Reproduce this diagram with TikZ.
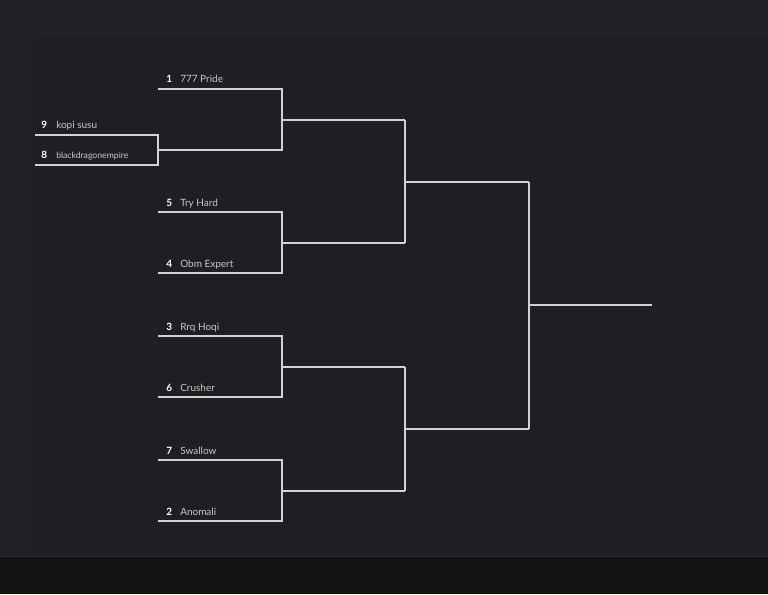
\documentclass[tikz,border=0pt]{standalone}
\usepackage{fontspec}
\setmainfont{Lato}
\definecolor{bgout}{HTML}{202125}
\definecolor{bgin}{HTML}{1E1F23}
\definecolor{bar}{HTML}{121315}
\definecolor{barline}{HTML}{2C2D31}
\definecolor{ln}{HTML}{D2D2D2}
\definecolor{txt}{HTML}{C8C8C8}
\begin{document}
\begin{tikzpicture}[x=0.75pt,y=-0.75pt,
  wire/.style={draw=ln,line width=1.3pt},
  seed/.style={anchor=base west,text=white,font=\fontsize{7.5}{9}\selectfont\bfseries,inner sep=0},
  team/.style={anchor=base west,text=txt,font=\fontsize{7.5}{9}\selectfont,inner sep=0}]
\fill[bgout] (0,0) rectangle (768,594);
\useasboundingbox (0,0) rectangle (768,594);
\fill[bgin] (35,38) rectangle (768,556);
\fill[bar] (0,557) rectangle (768,594);
\draw[barline,line width=1pt] (0,556.5) -- (768,556.5);
% play-in
\coordinate (p9a) at (35,135); \coordinate (p9b) at (158,135);
\coordinate (p8a) at (35,165); \coordinate (p8b) at (158,165);
\coordinate (pm) at (158,150);
\draw[wire] (p9a) -- (p9b) -- (p8b) -- (p8a);
\node[seed] (s9) at (41,128) {9}; \node[team] (t9) at (56,128) {kopi susu};
\node[seed] (s8) at (41,158) {8}; \node[team,font=\fontsize{6.5}{8}\selectfont] (t8) at (56,158) {blackdragonempire};
% round 1
\foreach \i/\ya/\yb/\ym in {1/89/150/120, 2/212/273/243, 3/336/397/367, 4/460/521/491}{
  \coordinate (a\i) at (158,\ya); \coordinate (ae\i) at (282,\ya);
  \coordinate (b\i) at (158,\yb); \coordinate (be\i) at (282,\yb);
  \coordinate (m\i) at (282,\ym); \coordinate (me\i) at (405,\ym);
  \draw[wire] (a\i) -- (ae\i) -- (be\i) -- (b\i);
  \draw[wire] (m\i) -- (me\i);
}
\foreach \y/\s/\n [count=\k] in {82/1/777 Pride, 143/ /, 206/5/Try Hard, 267/4/Obm Expert, 330/3/Rrq Hoqi, 391/6/Crusher, 454/7/Swallow, 515/2/Anomali}{
  \ifnum\k=2\else
  \node[seed] (sd\k) at (166,\y) {\s}; \node[team] (tm\k) at (180,\y) {\n};
  \fi
}
% round 2
\coordinate (r1) at (405,182); \coordinate (r1e) at (529,182);
\coordinate (r2) at (405,429); \coordinate (r2e) at (529,429);
\draw[wire] (me1) -- (me2); \draw[wire] (r1) -- (r1e);
\draw[wire] (me3) -- (me4); \draw[wire] (r2) -- (r2e);
% final
\coordinate (f) at (529,305); \coordinate (fe) at (652,305);
\draw[wire] (r1e) -- (r2e); \draw[wire] (f) -- (fe);
\end{tikzpicture}
\end{document}
